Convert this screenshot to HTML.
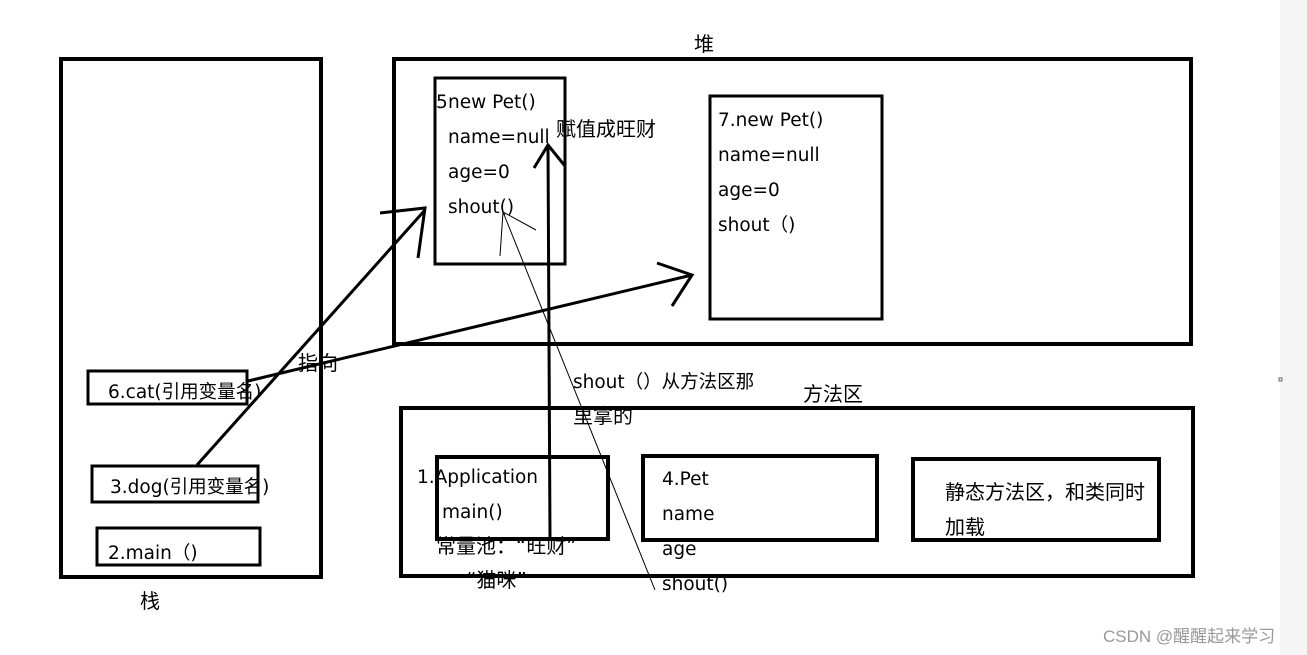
<!DOCTYPE html>
<html><head><meta charset="utf-8"><style>
html,body{margin:0;padding:0;background:#fff;width:1307px;height:655px;overflow:hidden}
svg text{font-family:"DejaVu Sans","Noto Sans CJK SC",sans-serif;font-size:18.5px;fill:#000}
svg text.c{font-size:20px}
</style></head><body>
<svg width="1307" height="655" xmlns="http://www.w3.org/2000/svg">
<rect x="1280" y="0" width="27" height="655" fill="#f5f5f5"/>
<g fill="none" stroke="#000">
<rect x="61" y="59" width="260" height="518" stroke-width="4"/>
<rect x="394" y="59" width="797" height="285" stroke-width="4"/>
<rect x="435" y="78" width="130" height="186" stroke-width="3"/>
<rect x="710" y="96" width="172" height="223" stroke-width="3"/>
<rect x="401" y="408" width="792" height="168" stroke-width="4"/>
<rect x="437" y="457" width="171" height="82" stroke-width="4"/>
<rect x="643" y="456" width="234" height="84" stroke-width="4"/>
<rect x="913" y="459" width="246" height="81" stroke-width="4"/>
<rect x="88" y="371" width="159" height="33" stroke-width="3"/>
<rect x="92" y="466" width="166" height="36" stroke-width="3"/>
<rect x="97" y="528" width="163" height="37" stroke-width="3"/>
<g stroke-width="3">
<line x1="197" y1="465" x2="425" y2="210"/>
<polyline points="380,213 425,208 418,258"/>
<line x1="248" y1="381" x2="692" y2="275"/>
<polyline points="657,263 692,275 672,306"/>
<line x1="550" y1="540" x2="548" y2="145"/>
<polyline points="534,168 548,145 565,166"/>
</g>
<g stroke-width="1">
<line x1="503" y1="212" x2="655" y2="590"/>
<line x1="503" y1="212" x2="500" y2="256"/>
<line x1="503" y1="212" x2="536" y2="230"/>
</g>
</g>
<text class="c" x="694" y="51">堆</text>
<text class="c" x="140" y="608">栈</text>
<text class="c" x="803" y="401">方法区</text>
<text class="c" x="298" y="370">指向</text>
<text x="436" y="108">5</text><text x="448" y="108">new Pet()</text>
<text x="448" y="143">name=null</text>
<text class="c" x="556" y="136">赋值成旺财</text>
<text x="448" y="178">age=0</text>
<text x="448" y="213">shout()</text>
<text x="718" y="126">7.new Pet()</text>
<text x="718" y="161">name=null</text>
<text x="718" y="196">age=0</text>
<text x="718" y="231">shout（)</text>
<text x="108" y="398">6.cat(引用变量名)</text>
<text x="110" y="493">3.dog(引用变量名)</text>
<text x="108" y="559">2.main（)</text>
<text x="573" y="388">shout（）从方法区那</text>
<text class="c" x="573" y="423">里拿的</text>
<text x="417" y="483">1.Application</text>
<text x="442" y="518">main()</text>
<text class="c" x="436" y="553">常量池：“旺财”</text>
<text class="c" x="466" y="587">“猫咪”</text>
<text x="662" y="485">4.Pet</text>
<text x="662" y="520">name</text>
<text x="662" y="555">age</text>
<text x="662" y="590">shout()</text>
<text class="c" x="945" y="499">静态方法区，和类同时</text>
<text class="c" x="945" y="534">加载</text>
<text x="1103" y="642" style="font-size:17px;fill:#999;font-family:'Liberation Sans','Noto Sans CJK SC',sans-serif">CSDN @醒醒起来学习</text>
<rect x="1279" y="378" width="3" height="3" fill="none" stroke="#666" stroke-width="1"/>
</svg>
</body></html>
